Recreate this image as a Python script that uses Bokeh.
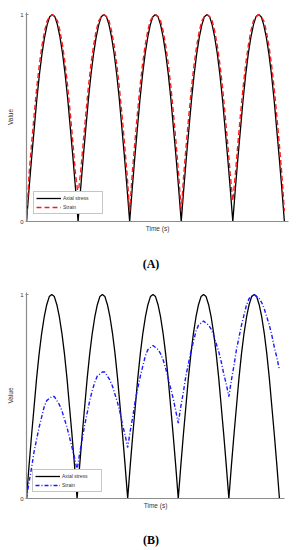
from bokeh.plotting import figure
from bokeh.models import Range1d, FixedTicker, Legend, LegendItem, Div
from bokeh.layouts import column
from bokeh.embed import file_html
from bokeh.resources import INLINE

# ---- data ----
time_s = [0.00, 0.05, 0.10, 0.15, 0.20, 0.25, 0.30, 0.35, 0.40, 0.45,
          0.50, 0.55, 0.60, 0.65, 0.70, 0.75, 0.80, 0.85, 0.90, 0.95,
          1.00, 1.05, 1.10, 1.15, 1.20, 1.25, 1.30, 1.35, 1.40, 1.45,
          1.50, 1.55, 1.60, 1.65, 1.70, 1.75, 1.80, 1.85, 1.90, 1.95,
          2.00, 2.05, 2.10, 2.15, 2.20, 2.25, 2.30, 2.35, 2.40, 2.45,
          2.50, 2.55, 2.60, 2.65, 2.70, 2.75, 2.80, 2.85, 2.90, 2.95,
          3.00, 3.05, 3.10, 3.15, 3.20, 3.25, 3.30, 3.35, 3.40, 3.45,
          3.50, 3.55, 3.60, 3.65, 3.70, 3.75, 3.80, 3.85, 3.90, 3.95,
          4.00, 4.05, 4.10, 4.15, 4.20, 4.25, 4.30, 4.35, 4.40, 4.45,
          4.50, 4.55, 4.60, 4.65, 4.70, 4.75, 4.80, 4.85, 4.90, 4.95,
          5.00]

axial_stress = [0.00, 0.16, 0.31, 0.45, 0.59, 0.71, 0.81, 0.89, 0.95, 0.99,
                1.00, 0.99, 0.95, 0.89, 0.81, 0.71, 0.59, 0.45, 0.31, 0.16,
                0.00, 0.16, 0.31, 0.45, 0.59, 0.71, 0.81, 0.89, 0.95, 0.99,
                1.00, 0.99, 0.95, 0.89, 0.81, 0.71, 0.59, 0.45, 0.31, 0.16,
                0.00, 0.16, 0.31, 0.45, 0.59, 0.71, 0.81, 0.89, 0.95, 0.99,
                1.00, 0.99, 0.95, 0.89, 0.81, 0.71, 0.59, 0.45, 0.31, 0.16,
                0.00, 0.16, 0.31, 0.45, 0.59, 0.71, 0.81, 0.89, 0.95, 0.99,
                1.00, 0.99, 0.95, 0.89, 0.81, 0.71, 0.59, 0.45, 0.31, 0.16,
                0.00, 0.16, 0.31, 0.45, 0.59, 0.71, 0.81, 0.89, 0.95, 0.99,
                1.00, 0.99, 0.95, 0.89, 0.81, 0.71, 0.59, 0.45, 0.31, 0.16,
                0.00]

strain_a = [0.00, 0.23, 0.38, 0.52, 0.65, 0.76, 0.85, 0.92, 0.97, 0.99,
            1.00, 0.99, 0.97, 0.92, 0.85, 0.76, 0.65, 0.52, 0.38, 0.23,
            0.13, 0.24, 0.38, 0.52, 0.65, 0.76, 0.85, 0.92, 0.97, 0.99,
            1.00, 0.99, 0.97, 0.92, 0.85, 0.76, 0.65, 0.52, 0.38, 0.23,
            0.05, 0.23, 0.38, 0.52, 0.65, 0.76, 0.85, 0.92, 0.97, 0.99,
            1.00, 0.99, 0.97, 0.92, 0.85, 0.76, 0.65, 0.52, 0.38, 0.23,
            0.05, 0.23, 0.38, 0.52, 0.65, 0.76, 0.85, 0.92, 0.97, 0.99,
            1.00, 0.99, 0.97, 0.92, 0.85, 0.76, 0.65, 0.52, 0.38, 0.23,
            0.10, 0.23, 0.38, 0.52, 0.65, 0.76, 0.85, 0.92, 0.97, 0.99,
            1.00, 0.99, 0.97, 0.92, 0.85, 0.76, 0.65, 0.52, 0.38, 0.23,
            0.05]

strain_b = [0.00, 0.08, 0.15, 0.23, 0.29, 0.35, 0.40, 0.45, 0.48, 0.49,
            0.50, 0.50, 0.48, 0.46, 0.43, 0.39, 0.35, 0.30, 0.25, 0.20,
            0.14, 0.22, 0.29, 0.36, 0.42, 0.48, 0.53, 0.57, 0.60, 0.61,
            0.62, 0.62, 0.60, 0.58, 0.55, 0.51, 0.47, 0.42, 0.36, 0.31,
            0.25, 0.33, 0.40, 0.48, 0.54, 0.60, 0.65, 0.70, 0.73, 0.74,
            0.75, 0.74, 0.73, 0.71, 0.68, 0.64, 0.59, 0.54, 0.49, 0.43,
            0.37, 0.45, 0.52, 0.60, 0.66, 0.72, 0.77, 0.82, 0.85, 0.86,
            0.87, 0.86, 0.85, 0.83, 0.80, 0.76, 0.72, 0.67, 0.61, 0.56,
            0.50, 0.58, 0.65, 0.73, 0.79, 0.85, 0.90, 0.95, 0.98, 0.99,
            1.00, 0.99, 0.98, 0.96, 0.93, 0.89, 0.85, 0.80, 0.74, 0.69,
            0.63]

y_ticks = [0, 1]
series_names = ["Axial stress", "Strain"]
panel_labels = ["(A)", "(B)"]

FONT = "Liberation Sans"
AXIS_GREY = "#8c8c8c"
TEXT_GREY = "#333333"


def make_panel(strain, color, dash, x_end, fw, fh, bl, br, bt, bb, legend_margin):
    p = figure(frame_width=fw, frame_height=fh,
               x_range=Range1d(0, x_end), y_range=Range1d(0, 1.01),
               output_backend="svg", toolbar_location=None,
               min_border_left=bl, min_border_right=br,
               min_border_top=bt, min_border_bottom=bb)
    p.outline_line_color = None
    p.grid.visible = False
    p.background_fill_color = "white"
    p.border_fill_color = "white"

    l1 = p.line(time_s, axial_stress, line_color="black", line_width=1.3)
    l2 = p.line(time_s, strain, line_color=color, line_width=1.4, line_dash=dash)

    xa = p.xaxis[0]
    xa.ticker = FixedTicker(ticks=[])
    xa.axis_label = "Time (s)"
    xa.axis_label_text_font = FONT
    xa.axis_label_text_font_size = "6.5px"
    xa.axis_label_text_font_style = "normal"
    xa.axis_label_text_color = TEXT_GREY
    xa.axis_label_standoff = 3
    xa.axis_line_color = AXIS_GREY
    xa.axis_line_width = 1.2
    xa.major_tick_line_color = None
    xa.minor_tick_line_color = None

    ya = p.yaxis[0]
    ya.ticker = FixedTicker(ticks=y_ticks)
    ya.axis_label = "Value"
    ya.axis_label_text_font = FONT
    ya.axis_label_text_font_size = "6.5px"
    ya.axis_label_text_font_style = "normal"
    ya.axis_label_text_color = TEXT_GREY
    ya.axis_label_standoff = 3
    ya.major_label_text_font = FONT
    ya.major_label_text_font_size = "6px"
    ya.major_label_text_color = TEXT_GREY
    ya.major_label_standoff = 2
    ya.axis_line_color = AXIS_GREY
    ya.axis_line_width = 1.2
    ya.major_tick_line_color = AXIS_GREY
    ya.major_tick_in = 2
    ya.major_tick_out = 1
    ya.minor_tick_line_color = None

    legend = Legend(items=[LegendItem(label=series_names[0], renderers=[l1]),
                           LegendItem(label=series_names[1], renderers=[l2])],
                    location="bottom_left")
    legend.label_text_font = FONT
    legend.label_text_font_size = "5px"
    legend.label_text_color = TEXT_GREY
    legend.label_height = 8
    legend.label_width = 37
    legend.label_standoff = 2
    legend.glyph_width = 25
    legend.glyph_height = 8
    legend.spacing = 1
    legend.padding = 2
    legend.margin = legend_margin
    legend.border_line_color = AXIS_GREY
    legend.border_line_width = 1
    legend.background_fill_alpha = 1
    p.add_layout(legend)
    return p


def panel_label(text, top_gap, height):
    html = ('<div style="margin-top:%dpx;width:302px;text-align:center;'
            'font-family:\'Liberation Serif\';font-weight:bold;font-size:12px;'
            'line-height:14px;color:black;">%s</div>' % (top_gap, text))
    return Div(text=html, width=302, height=height, margin=0)


pa = make_panel(strain_a, "#ff1a1a", "5 3", 5.08, 262, 209, 21, 19, 12, 20, 7)
da = panel_label(panel_labels[0], 16, 33)
pb = make_panel(strain_b, "#1a1aff", "4 2 1 2", 5.10, 258, 206, 26, 18, 18, 20, 6)
db = panel_label(panel_labels[1], 15, 30)

layout = column(pa, da, pb, db, spacing=0)
open("out.html", "w").write(file_html(layout, INLINE))
